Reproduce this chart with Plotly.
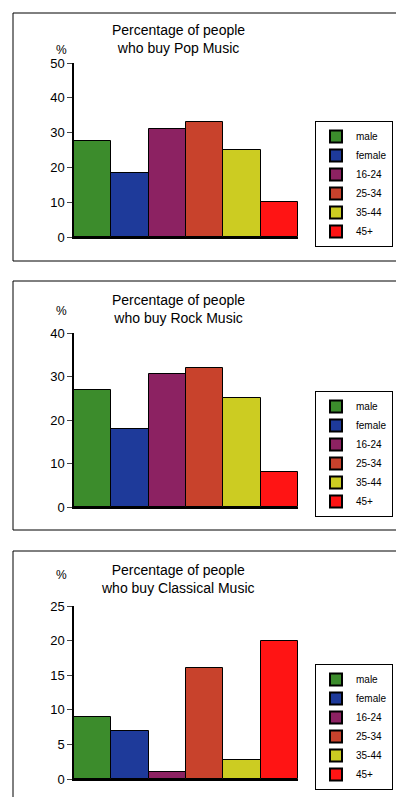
import plotly.graph_objects as go

categories = ["male", "female", "16-24", "25-34", "35-44", "45+"]
colors = ["#3c8c2c", "#1e3a9a", "#8c2262", "#c8422c", "#cccc22", "#ff1414"]
pop = [27.5, 18.5, 31, 33, 25, 10]
rock = [27, 18, 30.5, 32, 25, 8]
classical = [9, 7, 1, 16, 2.7, 20]
titles = ["Percentage of people<br>who buy Pop Music",
          "Percentage of people<br>who buy Rock Music",
          "Percentage of people<br>who buy Classical Music"]
yranges = [(50, 10), (40, 10), (25, 5)]
datasets = [pop, rock, classical]

H, W = 797, 404
def py(y): return 1 - y / H
def px(x): return x / W

panels = [dict(box=(5, 253), plot=(55, 229), title=12),
          dict(box=(273, 522), plot=(325, 499), title=282),
          dict(box=(543, 791), plot=(598, 771), title=552)]

fig = go.Figure()
shapes, annotations = [], []
for k, (vals, p) in enumerate(zip(datasets, panels)):
    sfx = "" if k == 0 else str(k + 1)
    leg = "legend" if k == 0 else f"legend{k+1}"
    for c, v, col in zip(categories, vals, colors):
        fig.add_trace(go.Bar(x=[c], y=[v], name=c, marker_color=col,
                             marker_line=dict(color="black", width=1), width=1,
                             xaxis="x" + sfx, yaxis="y" + sfx, legend=leg))
    ymax, dt = yranges[k]
    fig.layout["xaxis" + sfx] = dict(domain=[px(66), px(290)], anchor="y" + sfx,
                                     showticklabels=False, ticks="", showgrid=False,
                                     showline=True, linecolor="black", linewidth=1.5,
                                     range=[-0.5, 5.5], fixedrange=True, automargin=False)
    fig.layout["yaxis" + sfx] = dict(domain=[py(p["plot"][1]), py(p["plot"][0])],
                                     anchor="x" + sfx, range=[0, ymax], dtick=dt,
                                     showgrid=False, showline=True, linecolor="black",
                                     linewidth=1.5, ticks="outside", ticklen=5,
                                     tickfont=dict(size=13, color="black"), zeroline=False,
                                     automargin=False)
    fig.layout[leg] = dict(x=px(307), y=py(p["plot"][0] + 58), xanchor="left", yanchor="top",
                           bordercolor="black", borderwidth=1, bgcolor="white",
                           font=dict(size=10, color="black"), itemwidth=30, tracegroupgap=0,
                           itemsizing="constant")
    shapes.append(dict(type="rect", xref="paper", yref="paper", x0=px(5), x1=px(398),
                       y0=py(p["box"][1]), y1=py(p["box"][0]), line=dict(color="black", width=1)))
    annotations.append(dict(text=titles[k], xref="paper", yref="paper", x=px(170),
                            y=py(p["title"]), yanchor="top", showarrow=False,
                            font=dict(size=14, color="black")))
    annotations.append(dict(text="%", xref="paper", yref="paper", x=px(46),
                            y=py(p["plot"][0] - 22), showarrow=False,
                            font=dict(size=12, color="black")))

fig.update_layout(width=W, height=H, margin=dict(l=0, r=0, t=0, b=0, autoexpand=False),
                  paper_bgcolor="white", plot_bgcolor="white", barmode="overlay",
                  bargap=0, shapes=shapes, annotations=annotations,
                  font=dict(family="Liberation Sans, Arial"))
fig.write_html("out.html")
